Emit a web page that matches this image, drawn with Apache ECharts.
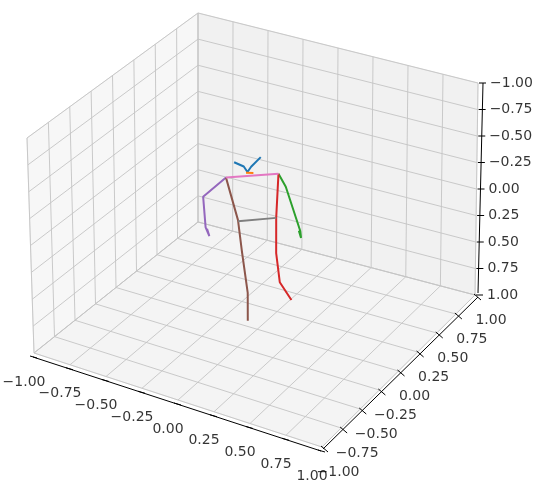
<!DOCTYPE html>
<html><head><meta charset="utf-8">
<script src="https://cdn.jsdelivr.net/npm/echarts@6/dist/echarts.min.js"></script>
<style>html,body{margin:0;padding:0;background:#fff}#c{width:550px;height:490px}</style>
</head><body><div id="c"></div>
<script>
// tick values shared by x, y, z axes
const ticks = [-1, -0.75, -0.5, -0.25, 0, 0.25, 0.5, 0.75, 1];
// skeleton limbs, [x, y, z] per joint (z axis inverted in view)
const headBlue   = [[-0.12,-0.07,-0.56],[-0.07,-0.04,-0.52],[-0.05,-0.03,-0.47],[-0.03,-0.02,-0.52],[0.02,0.01,-0.61]];
const headOrange = [[-0.06,-0.03,-0.46],[-0.02,-0.01,-0.46]];
const rightArm   = [[0.11,0.07,-0.45],[0.15,0.09,-0.33],[0.23,0.13,0.08],[0.23,0.14,0.15],[0.22,0.13,0.08]];
const rightBody  = [[0.11,0.07,-0.45],[0.10,0.06,-0.04],[0.10,0.06,0.29],[0.12,0.07,0.56],[0.18,0.11,0.73]];
const leftArm    = [[-0.16,-0.10,-0.42],[-0.28,-0.17,-0.24],[-0.27,-0.16,0.05],[-0.25,-0.15,0.13],[-0.26,-0.16,0.06]];
const leftBody   = [[-0.16,-0.10,-0.42],[-0.10,-0.06,-0.02],[-0.08,-0.05,0.26],[-0.05,-0.03,0.66],[-0.05,-0.03,0.92]];
const shoulders  = [[-0.16,-0.10,-0.42],[0.11,0.07,-0.45]];
const hips       = [[-0.10,-0.06,-0.01],[0.10,0.06,-0.04]];

// projection: trilinear between screen positions of the box corners
const C = { // [ix][iy][iz] -> pixel ; iz=0 top (z=-1), iz=1 bottom (z=1)
  '000':[27,138],'001':[34,353],'100':[325,227],'101':[322,447],
  '110':[478,83],'111':[475,295],'010':[198,13],'011':[198,222]};
function P(x,y,z){
  const u=(x+1)/2,v=(y+1)/2,w=(z+1)/2; let sx=0,sy=0;
  for(const a of [0,1])for(const b of [0,1])for(const c of [0,1]){
    const wt=(a?u:1-u)*(b?v:1-v)*(c?w:1-w); const p=C[''+a+b+c];
    sx+=wt*p[0]; sy+=wt*p[1];}
  return [sx,sy];
}
const fmt=t=>t.toFixed(2).replace('-','\u2212');
const panes=[
  {pts:[[-1,-1,-1],[-1,1,-1],[-1,1,1],[-1,-1,1]],c:'#f7f7f7'},
  {pts:[[-1,1,-1],[1,1,-1],[1,1,1],[-1,1,1]],c:'#f1f1f1'},
  {pts:[[-1,-1,1],[1,-1,1],[1,1,1],[-1,1,1]],c:'#f4f4f4'}];
const grid=[];
ticks.forEach(t=>{
  grid.push([P(t,-1,1),P(t,1,1)],[P(-1,t,1),P(1,t,1)]);
  grid.push([P(-1,t,-1),P(-1,t,1)],[P(-1,-1,t),P(-1,1,t)]);
  grid.push([P(t,1,-1),P(t,1,1)],[P(-1,1,t),P(1,1,t)]);
});
const axes=[];
const off=(p,dx,dy)=>[p[0]+dx,p[1]+dy];
axes.push([off(P(-1,-1,1),-1,4),off(P(1,-1,1),-1,4)]);
axes.push([off(P(1,-1,1),1,2),off(P(1,1,1),3,2)]);
axes.push([off(P(1,1,-1),5,0),off(P(1,1,1),3,-2)]);
const labels=[];
ticks.forEach(t=>{
  let p=off(P(t,-1,1),-1,4); axes.push([off(p,-3,-1),off(p,4,1)]);
  labels.push({value:off(P(t,-1,1),-10,29),t:fmt(t),a:'center'});
  p=off(P(1,t,1),2,2); axes.push([off(p,-3,-3),off(p,4,3)]);
  labels.push({value:off(P(1,t,1),16,25),t:fmt(t),a:'center'});
  p=off(P(1,1,t),4,0); axes.push([off(p,-3,0),off(p,4,0)]);
  labels.push({value:off(P(1,1,t),12,0),t:fmt(t),a:'left'});
});
const segSeries=(data,color,w)=>({type:'custom',silent:true,data:data.map(s=>[s[0][0],s[0][1],s[1][0],s[1][1]]),
  renderItem:(p,api)=>{const a=api.coord([api.value(0),api.value(1)]),b=api.coord([api.value(2),api.value(3)]);
    return {type:'line',shape:{x1:a[0],y1:a[1],x2:b[0],y2:b[1]},style:{stroke:color,lineWidth:w}};}});
const limbs=[[headBlue,'#1f77b4'],[headOrange,'#ff7f0e'],[rightArm,'#2ca02c'],[rightBody,'#d62728'],
  [leftArm,'#9467bd'],[leftBody,'#8c564b'],[shoulders,'#e377c2'],[hips,'#7f7f7f']];
const series=[
  {type:'custom',silent:true,data:panes.map((p,i)=>i),renderItem:(params,api)=>{
    const pn=panes[api.value(0)];
    return {type:'polygon',shape:{points:pn.pts.map(q=>api.coord(P(...q)))},style:{fill:pn.c,stroke:'#e6e6e6',lineWidth:1}};}},
  segSeries(grid,'#c4c4c4',0.9),
  segSeries(axes,'#000',1),
  {type:'scatter',silent:true,symbolSize:0,data:labels.map(l=>({value:l.value,label:{show:true,formatter:l.t,align:l.a,
    verticalAlign:'middle',position:'inside',color:'#000',fontSize:14,fontFamily:'DejaVu Sans'}}))},
  ...limbs.map(([d,c])=>({type:'line',silent:true,symbol:'none',data:d.map(q=>P(...q)),lineStyle:{color:c,width:2},z:5}))
];
const chart=echarts.init(document.getElementById('c'),null,{renderer:'canvas'});
chart.setOption({animation:false,grid:{left:0,right:0,top:0,bottom:0},
  xAxis:{type:'value',min:0,max:550,show:false},yAxis:{type:'value',min:0,max:490,inverse:true,show:false},
  series});
</script></body></html>
